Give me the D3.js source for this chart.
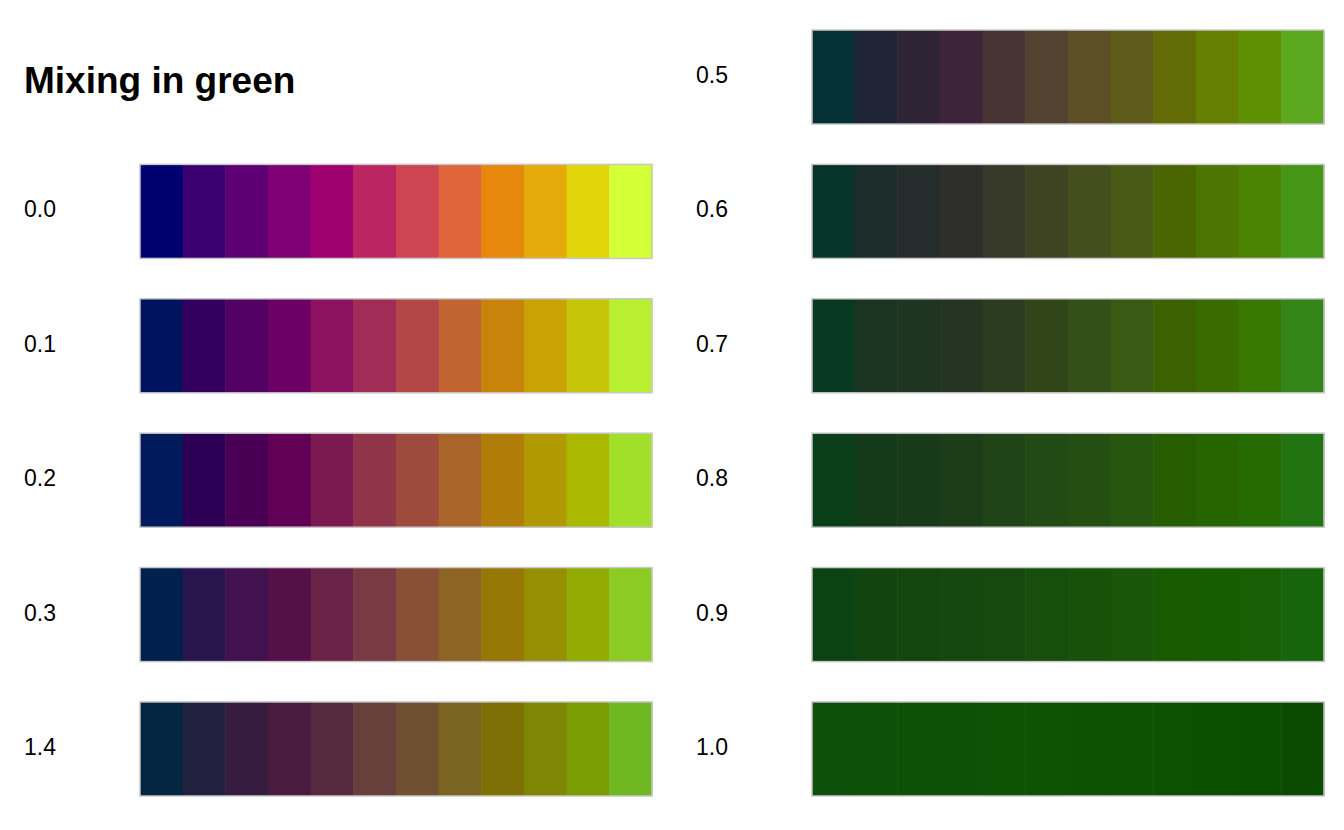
<!DOCTYPE html>
<meta charset="utf-8">
<head>
<script src="https://d3js.org/d3.v7.min.js"></script>
<style>body{margin:0;background:#fff} text{font-family:"Liberation Sans",Arial,sans-serif}</style>
</head>
<body>
<div id="chart"></div>
<script>
// labels as printed in the picture, left column then right column
var leftLabels = ["0.0", "0.1", "0.2", "0.3", "1.4"];
var rightLabels = ["0.5", "0.6", "0.7", "0.8", "0.9", "1.0"];

var left00 = ["#000070","#3a0070","#5e0073","#7d0074","#9e006e","#bb2662","#cd4452","#e0653a","#e6880c","#e4ab0a","#e0d60a","#d3ff36"];
var left01 = ["#00135f","#330060","#520062","#6d0065","#8c1260","#a32c56","#b34748","#c26332","#c8830a","#c9a204","#c7c508","#b8ef30"];
var left02 = ["#001a5b","#2e0055","#490054","#620055","#7a1a50","#8f3449","#9e4b3d","#a96429","#b07d08","#b19904","#aab900","#a2df2a"];
var left03 = ["#01204e","#28154e","#41124d","#55104a","#682347","#7a3a43","#8a4f37","#8e6424","#977706","#978f02","#93ac04","#8bcb24"];
var left04 = ["#03253f","#22203f","#361c3f","#481b3f","#552a3e","#673f3b","#6f5132","#7b6322","#7f7005","#7e8604","#7a9d04","#6fb822"];
var right05 = ["#053035","#1f2434","#2e2434","#3e2438","#483434","#534230","#5c4f26","#5e5c1a","#626b05","#657f02","#5f8f02","#5ba71e"];
var right06 = ["#07352b","#1b2c2a","#242d2b","#2e2f2b","#363828","#3e4322","#444e1f","#495a17","#4a6602","#4c7601","#4a8301","#459617"];
var right07 = ["#093a21","#1a3421","#1f3421","#243522","#2b3d1e","#304619","#354f19","#385a12","#3a6200","#386c01","#387701","#33851a"];
var right08 = ["#0a3f19","#153a19","#193a19","#1d3d19","#1f4217","#224a14","#244e12","#265610","#265d00","#266400","#266b02","#227412"];
var right09 = ["#0b4312","#124410","#13460f","#15480e","#15490d","#174e0c","#18520a","#195609","#175a00","#175c00","#185f05","#16650c"];
var right10 = ["#0d500a","#0d5008","#0d5107","#0d5106","#0d5205","#0d5205","#0d5204","#0d5203","#0c5101","#0c4f01","#0b4d01","#0b4a01"];

var leftRows = [left00, left01, left02, left03, left04];
var rightRows = [right05, right06, right07, right08, right09, right10];

var svg = d3.select("#chart").append("svg").attr("width", 1344).attr("height", 830);

// row positions shared by both columns (right column starts one row higher)
var y = d3.scaleBand().domain(d3.range(6)).range([30, 796]).paddingInner(0.3);
var cell = d3.scaleBand().domain(d3.range(12)).range([0, 512]);

svg.append("text").attr("x", 24).attr("y", 93)
    .text("Mixing in green").style("font-size", "37px").style("font-weight", "bold");

function drawColumn(rows, labels, x0, labelX, offset) {
    rows.forEach(function(cols, i) {
        var g = svg.append("g").attr("transform", "translate(" + x0 + "," + y(i + offset) + ")");
        g.selectAll("rect").data(cols).enter().append("rect")
            .attr("x", function(d, j) { return cell(j); })
            .attr("width", cell.bandwidth() + 0.5)
            .attr("height", y.bandwidth())
            .attr("fill", function(d) { return d; });
        g.append("rect").attr("width", 512).attr("height", y.bandwidth())
            .attr("fill", "none").attr("stroke", "#c8c8c8").attr("stroke-width", 1.5);
        svg.append("text").attr("x", labelX).attr("y", y(i + offset) + y.bandwidth() / 2)
            .attr("dominant-baseline", "middle")
            .text(labels[i]).style("font-size", "23px");
    });
}

drawColumn(leftRows, leftLabels, 140, 24, 1);
drawColumn(rightRows, rightLabels, 812, 696, 0);
</script>
</body>
</html>
